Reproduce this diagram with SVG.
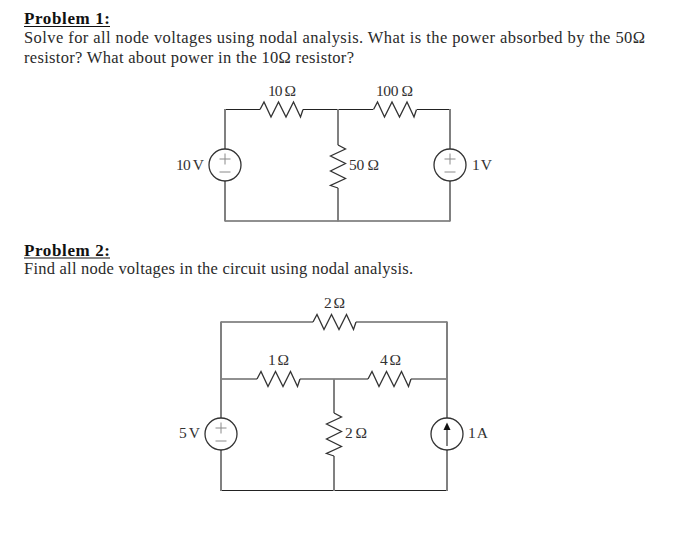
<svg xmlns="http://www.w3.org/2000/svg" width="679" height="536" viewBox="0 0 679 536">
<style>
text{font-family:"Liberation Serif","DejaVu Serif",serif;fill:#2a2a2a}
.body{font-size:16.5px}
.head{font-size:17px;font-weight:bold;fill:#111}
.lab{font-size:15.5px;fill:#333}
.h{fill:none;stroke:#222;stroke-width:1.2}
.v{fill:none;stroke:#808080;stroke-width:2}
.zz{fill:none;stroke:#333;stroke-width:1.3;stroke-linejoin:miter}
.src{fill:#fff;stroke:#333;stroke-width:1.3}
.pm{fill:none;stroke:#8a8a8a;stroke-width:1}
.ul{stroke:#111;stroke-width:1.2}
.arr{stroke:#777;stroke-width:1.8;fill:none}
</style>
<defs>
<path id="rh" class="zz" d="M0 0L4-7.500 11 7.500 18.500-7.500 26 7.500 33.500-7.500 40.500 7.500 43 0"/>
<path id="rv" class="zz" d="M0 0L7.500 4-7.500 11 7.500 18.500-7.500 26 7.500 33.500-7.500 40.500 0 43"/>
<g id="vs"><circle class="src" r="16"/><path class="pm" d="M-5.500-6H5.500M0-11.500V-.5M-5.500 7H5.500"/></g>
</defs>
<g id="problem-1-text">
<text class="head" x="24" y="24" textLength="86" lengthAdjust="spacing">Problem 1:</text>
<line class="ul" x1="24" y1="26.500" x2="110" y2="26.500"/>
<text class="body" x="24" y="43" textLength="621" lengthAdjust="spacing">Solve for all node voltages using nodal analysis.  What is the power absorbed by the 50Ω</text>
<text class="body" x="24" y="63" textLength="330" lengthAdjust="spacing">resistor? What about power in the 10Ω resistor?</text>
</g>
<g id="problem-2-text">
<text class="head" x="24" y="255.500" textLength="86" lengthAdjust="spacing">Problem 2:</text>
<line class="ul" x1="24" y1="258" x2="110" y2="258"/>
<text class="body" x="24" y="274" textLength="389" lengthAdjust="spacing">Find all node voltages in the circuit using nodal analysis.</text>
</g>
<g id="connectors">
<path class="h" d="M225 109.500H260M303 109.500H373M417 109.500H450M225 221H450"/>
<path class="v" d="M225 109V149M225 181V221.500M338 109V145M338 188V221.500M450 109V149M450 181V221.500"/>
<path class="h" d="M221 322H313M356 322H447M221 379H257M300 379H368M411 379H447M221 490.500H447"/>
<path class="v" d="M221 321.500V418M221 450V491M334 379V413M334 456V491M447 321.500V418M447 450V491"/>
</g>
<g id="c1-V1"><use href="#vs" x="225" y="165"/><text class="lab" x="176" y="170" textLength="28">10 V</text></g>
<g id="c1-R1"><use href="#rh" x="260" y="109.500"/><text class="lab" x="268" y="96" textLength="28">10 Ω</text></g>
<g id="c1-R2"><use href="#rh" x="373.500" y="109.500"/><text class="lab" x="376" y="96" textLength="37">100 Ω</text></g>
<g id="c1-R3"><use href="#rv" x="338" y="145"/><text class="lab" x="349" y="170" textLength="30">50 Ω</text></g>
<g id="c1-V2"><use href="#vs" x="450" y="165"/><text class="lab" x="472" y="170" textLength="20">1 V</text></g>
<g id="c2-R1"><use href="#rh" x="313" y="322"/><text class="lab" x="324" y="308" textLength="21">2 Ω</text></g>
<g id="c2-R2"><use href="#rh" x="257" y="379"/><text class="lab" x="268" y="364.500" textLength="21">1 Ω</text></g>
<g id="c2-R3"><use href="#rh" x="368" y="379"/><text class="lab" x="380" y="364.500" textLength="21">4 Ω</text></g>
<g id="c2-R4"><use href="#rv" x="334" y="413"/><text class="lab" x="345" y="438" textLength="22">2 Ω</text></g>
<g id="c2-V1"><use href="#vs" x="221" y="434"/><text class="lab" x="179" y="438" textLength="21">5 V</text></g>
<g id="c2-I1"><circle class="src" cx="447" cy="434" r="16"/><path class="arr" d="M447 446V428"/><path d="M447 422.500l-3.500 7.500h7z" fill="#111"/><text class="lab" x="468" y="438" textLength="20">1 A</text></g>
</svg>
